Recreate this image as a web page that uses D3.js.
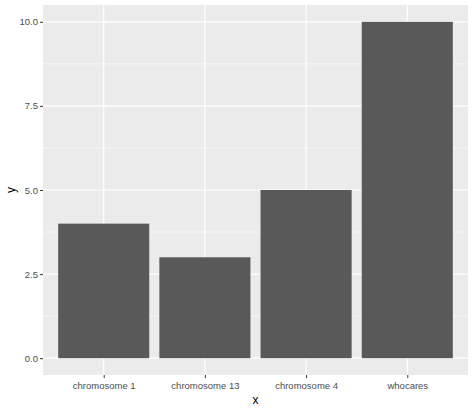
<!DOCTYPE html>
<html>
<head>
<meta charset="utf-8">
<script src="https://cdn.jsdelivr.net/npm/d3@7"></script>
<style>
  body { margin: 0; background: #fff; }
  text { font-family: "Liberation Sans", Arial, sans-serif; }
</style>
</head>
<body>
<div id="chart"></div>
<script>
const categories = ['chromosome 1', 'chromosome 13', 'chromosome 4', 'whocares'];
const values = [4, 3, 5, 10];
const yTicks = [0, 2.5, 5, 7.5, 10];
const yMinor = [1.25, 3.75, 6.25, 8.75];

const width = 474, height = 410;
const margin = { top: 5, right: 6, bottom: 35, left: 43 };
const innerW = width - margin.left - margin.right;
const innerH = height - margin.top - margin.bottom;

const svg = d3.select('#chart').append('svg')
  .attr('width', width).attr('height', height);

const g = svg.append('g').attr('transform', `translate(${margin.left},${margin.top})`);

// ggplot-like expansion: 5% on continuous, 0.6 on discrete
const y = d3.scaleLinear().domain([-0.5, 10.5]).range([innerH, 0]);
const xPos = d3.scaleLinear().domain([0.4, categories.length + 0.6]).range([0, innerW]);
const x = d => xPos(categories.indexOf(d) + 1);
const bw = xPos(0.9) - xPos(0);

g.append('rect').attr('width', innerW).attr('height', innerH).attr('fill', '#EBEBEB');

g.selectAll('.minor').data(yMinor).join('line')
  .attr('x1', 0).attr('x2', innerW)
  .attr('y1', d => y(d)).attr('y2', d => y(d))
  .attr('stroke', '#fff').attr('stroke-width', 0.6);

g.selectAll('.majorY').data(yTicks).join('line')
  .attr('x1', 0).attr('x2', innerW)
  .attr('y1', d => y(d)).attr('y2', d => y(d))
  .attr('stroke', '#fff').attr('stroke-width', 1.2);

g.selectAll('.majorX').data(categories).join('line')
  .attr('x1', d => x(d)).attr('x2', d => x(d))
  .attr('y1', 0).attr('y2', innerH)
  .attr('stroke', '#fff').attr('stroke-width', 1.2);

g.selectAll('.bar').data(categories).join('rect')
  .attr('x', d => x(d) - bw / 2)
  .attr('width', bw)
  .attr('y', (d, i) => y(values[i]))
  .attr('height', (d, i) => y(0) - y(values[i]))
  .attr('fill', '#595959');

// axes
const yAxis = d3.axisLeft(y).tickValues(yTicks).tickFormat(d3.format('.1f')).tickSize(3).tickPadding(2);
const ya = g.append('g').call(yAxis);
ya.select('.domain').remove();
ya.selectAll('line').attr('stroke', '#333');
ya.selectAll('text').attr('fill', '#4D4D4D').style('font-size', '9.5px');

const xAxis = d3.axisBottom(d3.scalePoint().domain(categories).range([x(categories[0]), x(categories[3])]))
  .tickSize(3).tickPadding(4);
const xa = g.append('g').attr('transform', `translate(0,${innerH})`).call(xAxis);
xa.select('.domain').remove();
xa.selectAll('line').attr('stroke', '#333');
xa.selectAll('text').attr('fill', '#4D4D4D').style('font-size', '9.5px');

svg.append('text')
  .attr('x', margin.left + innerW / 2).attr('y', height - 6)
  .attr('text-anchor', 'middle').style('font-size', '12px').attr('fill', '#000')
  .text('x');

svg.append('text')
  .attr('transform', `translate(15,${margin.top + innerH / 2}) rotate(-90)`)
  .attr('text-anchor', 'middle').style('font-size', '12px').attr('fill', '#000')
  .text('y');
</script>
</body>
</html>
